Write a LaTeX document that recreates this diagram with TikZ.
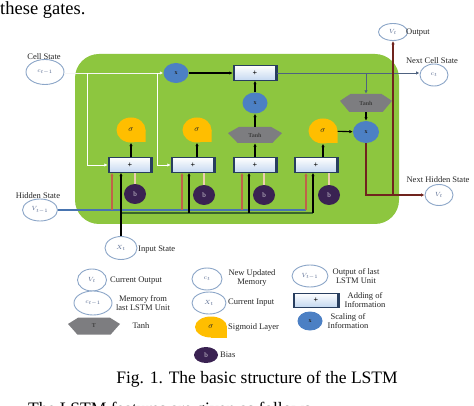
\documentclass[tikz,border=0pt]{standalone}
\usepackage{fontspec}
\setmainfont{Liberation Serif}
\usetikzlibrary{arrows.meta,shapes.geometric,calc}

\definecolor{cellgreen}{RGB}{141,198,63}
\definecolor{mulblue}{RGB}{76,128,196}
\definecolor{boxblue}{RGB}{196,216,240}
\definecolor{boxedge}{RGB}{40,62,95}
\definecolor{sigyellow}{RGB}{255,190,0}
\definecolor{biaspurple}{RGB}{58,34,82}
\definecolor{tanhgray}{RGB}{125,125,128}
\definecolor{stateedge}{RGB}{140,166,200}
\definecolor{statetext}{RGB}{80,100,140}
\definecolor{inred}{RGB}{192,98,72}
\definecolor{biastan}{RGB}{236,206,176}
\definecolor{outbrown}{RGB}{112,36,30}
\definecolor{hidblue}{RGB}{72,116,176}
\definecolor{xgreen}{RGB}{58,102,44}
\definecolor{celledge}{RGB}{78,98,128}

\tikzset{
  state/.style 2 args={ellipse, draw=stateedge, line width=0.9pt, fill=white,
    inner sep=0pt, minimum width=#1pt, minimum height=#2pt, text=statetext,
    font=\fontsize{6.5}{6.5}\selectfont},
  addbox/.style={rectangle, draw=boxedge, line width=0.5pt, top color=white,
    bottom color=boxblue, inner sep=0pt, minimum width=44pt, minimum height=15pt,
    font=\fontsize{8}{8}\selectfont\bfseries,
    path picture={
      \fill[boxedge] (path picture bounding box.south west) rectangle ([xshift=2.2pt]path picture bounding box.north west);
      \fill[boxedge] (path picture bounding box.south east) rectangle ([xshift=-2.2pt]path picture bounding box.north east);}},
  mulgate/.style 2 args={ellipse, fill=mulblue, inner sep=0pt, minimum width=#1pt,
    minimum height=#2pt, font=\fontsize{6}{6}\selectfont\bfseries, text=black!85},
  sigmagate/.style 2 args={rectangle, inner sep=0pt, minimum width=#1pt, minimum height=#2pt,
    font=\fontsize{8}{8}\selectfont, text=black!85,
    path picture={
      \fill[sigyellow] let \p1=(path picture bounding box.north east), \p2=(path picture bounding box.center)
        in (\p2) ellipse [x radius={\x1-\x2}, y radius={\y1-\y2}];
      \fill[sigyellow] (path picture bounding box.center) rectangle (path picture bounding box.south east);}},
  tanhgate/.style 2 args={rectangle, inner sep=0pt, minimum width=#1pt, minimum height=#2pt,
    font=\fontsize{6}{6}\selectfont\bfseries, text=black!75,
    path picture={
      \fill[tanhgray] let \p1=(path picture bounding box.south west), \p2=(path picture bounding box.north east)
        in ({\x1+0.2*(\x2-\x1)},\y2) -- ({\x1+0.8*(\x2-\x1)},\y2) -- (\x2,{\y2-0.38*(\y2-\y1)})
        -- ({\x1+0.82*(\x2-\x1)},\y1) -- ({\x1+0.18*(\x2-\x1)},\y1) -- (\x1,{\y2-0.38*(\y2-\y1)}) -- cycle;}},
  biasgate/.style 2 args={ellipse, fill=biaspurple, inner sep=0pt, minimum width=#1pt,
    minimum height=#2pt, font=\fontsize{7}{7}\selectfont, text=white!80!biaspurple},
  tag/.style={font=\fontsize{8.5}{8.5}\selectfont, inner sep=0pt, align=center, text=black!85},
  pagetext/.style={font=\fontsize{17.5}{17.5}\selectfont, inner sep=0pt},
  flow/.style={-{Latex[length=3.5pt,width=3.5pt]}, line width=1.1pt},
}

\begin{document}
\begin{tikzpicture}[x=1pt,y=-1pt]
  \clip (0,0) rectangle (474,406);
  \fill[white] (0,0) rectangle (474,406);

  % cell body
  \fill[cellgreen, rounded corners=24pt] (75,54) rectangle (399,224);

  % page text
  \node[pagetext, font=\fontsize{18.5}{18.5}\selectfont, anchor=base west] (intro) at (0,14.5) {these gates.};
  \node[pagetext, anchor=base] (caption) at (257,383) {Fig. 1. The basic structure of the LSTM};
  \node[pagetext, anchor=base west] (nextline) at (28,414) {The LSTM features are given as follows};

  % states
  \node[state={38}{25}] (cprev) at (45,72) {$c_{t-1}$};
  \node[state={35}{22}] (hprev) at (40,210) {$V_{t-1}$};
  \node[state={32}{23}] (xin) at (121,248) {$X_t$};
  \node[state={29}{17}] (hout) at (393,32) {$V_t$};
  \node[state={28}{22}] (cnext) at (434,75) {$c_t$};
  \node[state={28}{21}] (hnext) at (439,195) {$V_t$};

  \node[tag] (cprev-l) at (44,57) {Cell State};
  \node[tag] (hprev-l) at (38,196) {Hidden State};
  \node[tag, anchor=west] (xin-l) at (138,250) {Input State};
  \node[tag, anchor=west] (hout-l) at (406,33) {Output};
  \node[tag] (cnext-l) at (432,61) {Next Cell State};
  \node[tag] (hnext-l) at (438,180) {Next Hidden State};

  % gates
  \node[addbox] (g1) at (130,165) {+};
  \node[addbox] (g2) at (193,165) {+};
  \node[addbox] (g3) at (255,165) {+};
  \node[addbox] (g4) at (316,165) {+};
  \node[addbox] (cadd) at (255,73) {+};

  \node[sigmagate={29}{25}] (s1) at (131,130) {$\sigma$};
  \node[sigmagate={29}{25}] (s2) at (197,130) {$\sigma$};
  \node[sigmagate={29}{25}] (s4) at (323,131) {$\sigma$};

  \node[tanhgate={54}{16}] (ta) at (255,135) {Tanh};
  \node[tanhgate={52}{18}] (tb) at (366,103) {Tanh};

  \node[mulgate={25}{20}] (ma) at (176,73) {x};
  \node[mulgate={25}{21}] (mb) at (255,103) {x};
  \node[mulgate={26}{22}] (mc) at (366,132) {x};

  \node[biasgate={22}{20}] (b1) at (135,194) {b};
  \node[biasgate={22}{20}] (b2) at (204,195) {b};
  \node[biasgate={22}{20}] (b3) at (264,195) {b};
  \node[biasgate={22}{20}] (b4) at (329,195) {b};

  % cell state path
  \coordinate (w1) at (87,73);
  \coordinate (w2) at (157,73);
  \draw[flow, white!92!gray, line width=0.9pt] (cprev.east |- ma.west) -- (ma.west);
  \draw[flow, white, line width=0.9pt] (w1) |- (g1.west);
  \draw[flow, white, line width=0.9pt] (w2) |- (g2.west);
  \draw[flow] (ma) -- (cadd);
  \draw[flow] (mb) -- (cadd);
  \draw[flow] (ta) -- (mb);
  \draw[flow] (g3) -- (ta);
  \draw[flow, celledge, line width=0.9pt] (cadd.east) -- (cadd.east -| cnext.west);
  \draw[flow, celledge, line width=0.9pt] (cadd.east -| tb.north) -- (tb.north);

  % gate outputs
  \draw[flow] (g1.north -| s1.south) -- (s1.south);
  \draw[flow] (g2.north -| s2.south) -- (s2.south);
  \draw[flow] (g4.north -| s4.south) -- (s4.south);
  \draw[flow] (s4) -- (mc);
  \draw[flow] (tb) -- (mc);

  % hidden output
  \coordinate (hj) at (hout.south |- hnext.west);
  \draw[flow, outbrown, line width=1.3pt] (mc.south) |- (hnext.west);
  \draw[flow, outbrown, line width=1.3pt] (hj) -- (hout.south);

  % hidden and input lines
  \coordinate (r1) at (112,210);
  \coordinate (r2) at (182,210);
  \coordinate (r3) at (242,210);
  \coordinate (r4) at (306,210);
  \coordinate (x1) at (121,213);
  \coordinate (x2) at (189,213);
  \coordinate (x3) at (249,213);
  \coordinate (x4) at (313,213);
  \draw[hidblue, line width=1.4pt] (hprev.east) -- (r4);
  \draw[xgreen, line width=1.4pt] (x1) -- (x4);
  \draw[flow, inred, line width=1.4pt] (r1) -- (r1 |- g1.south);
  \draw[flow, inred, line width=1.4pt] (r2) -- (r2 |- g2.south);
  \draw[flow, inred, line width=1.4pt] (r3) -- (r3 |- g3.south);
  \draw[flow, inred, line width=1.4pt] (r4) -- (r4 |- g4.south);
  \draw[flow] (xin.north) -- (xin.north |- g1.south);
  \draw[flow] (x2) -- (x2 |- g2.south);
  \draw[flow] (x3) -- (x3 |- g3.south);
  \draw[flow] (x4) -- (x4 |- g4.south);
  \draw[biastan, line width=2.4pt] (b1.north) -- (b1.north |- g1.south);
  \draw[biastan, line width=2.4pt] (b2.north) -- (b2.north |- g2.south);
  \draw[biastan, line width=2.4pt] (b3.north) -- (b3.north |- g3.south);
  \draw[biastan, line width=2.4pt] (b4.north) -- (b4.north |- g4.south);

  % legend
  \node[state={29}{22}] (k-vt) at (92,280) {$V_t$};
  \node[tag, anchor=west] (k-vt-l) at (110,281) {Current Output};
  \node[state={30}{22}] (k-ct) at (207,279) {$c_t$};
  \node[tag] (k-ct-l) at (252,278) {New Updated\\Memory};
  \node[state={36}{22}] (k-vp) at (310,276) {$V_{t-1}$};
  \node[tag] (k-vp-l) at (356,276) {Output of last\\LSTM Unit};
  \node[state={38}{24}] (k-cp) at (93,303) {$c_{t-1}$};
  \node[tag] (k-cp-l) at (143,303) {Memory from\\last LSTM Unit};
  \node[state={34}{22}] (k-xt) at (209,303) {$X_t$};
  \node[tag, anchor=west] (k-xt-l) at (228,303) {Current Input};
  \node[addbox, minimum width=46pt, minimum height=14pt] (k-add) at (316,300) {+};
  \node[tag] (k-add-l) at (365,300) {Adding of\\Information};
  \node[tanhgate={52}{17}] (k-tanh) at (94,326) {T};
  \node[tag] (k-tanh-l) at (141,326) {Tanh};
  \node[sigmagate={32}{21}] (k-sig) at (211,327) {$\sigma$};
  \node[tag, anchor=west] (k-sig-l) at (228,327) {Sigmoid Layer};
  \node[mulgate={25}{19}] (k-mul) at (310,321) {x};
  \node[tag] (k-mul-l) at (348,321) {Scaling of\\Information};
  \node[biasgate={24}{16}] (k-bias) at (206,355) {b};
  \node[tag, anchor=west] (k-bias-l) at (220,355) {Bias};
\end{tikzpicture}
\end{document}
